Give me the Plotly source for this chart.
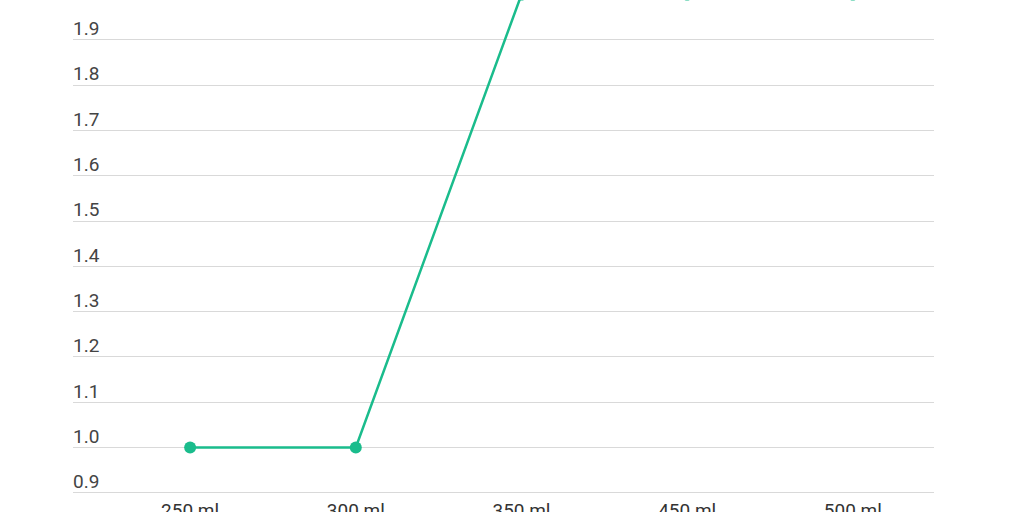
import plotly.graph_objects as go

# Данные графика
sizes = ["250 ml", "300 ml", "350 ml", "450 ml", "500 ml"]
values = [1.0, 1.0, 2.0, 2.0, 2.0]
y_ticks = [0.9, 1.0, 1.1, 1.2, 1.3, 1.4, 1.5, 1.6, 1.7, 1.8, 1.9]

line_color = "#1ABC8C"
text_color = "#333333"
grid_color = "#d9d9d9"

fig = go.Figure()
fig.add_trace(go.Scatter(
    x=sizes, y=values, mode="lines+markers",
    line=dict(color=line_color, width=2.5),
    marker=dict(color=line_color, size=12),
    cliponaxis=True,
    showlegend=False,
))

fig.update_layout(
    width=1024, height=512,
    margin=dict(l=73, r=90, t=0, b=17, autoexpand=False),
    paper_bgcolor="white", plot_bgcolor="white",
    font=dict(family="Roboto", size=19, color=text_color),
    xaxis=dict(
        type="category", range=[-0.707, 4.49], automargin=False,
        showgrid=False, zeroline=False, showline=False,
        ticks="", ticklabelstandoff=2,
    ),
    yaxis=dict(
        range=[0.895, 1.988], tickvals=y_ticks, automargin=False,
        ticktext=[f"{v:.1f}" for v in y_ticks],
        ticklabelposition="inside top",
        ticklabelstandoff=-3, ticklabelshift=2,
        showgrid=True, gridcolor=grid_color, gridwidth=1,
        zeroline=False, showline=False, ticks="",
    ),
)

# убираем отступ body, чтобы график начинался в левом верхнем углу
fig.write_html("out.html", config={"displayModeBar": False},
               post_script="document.body.style.margin='0';")
